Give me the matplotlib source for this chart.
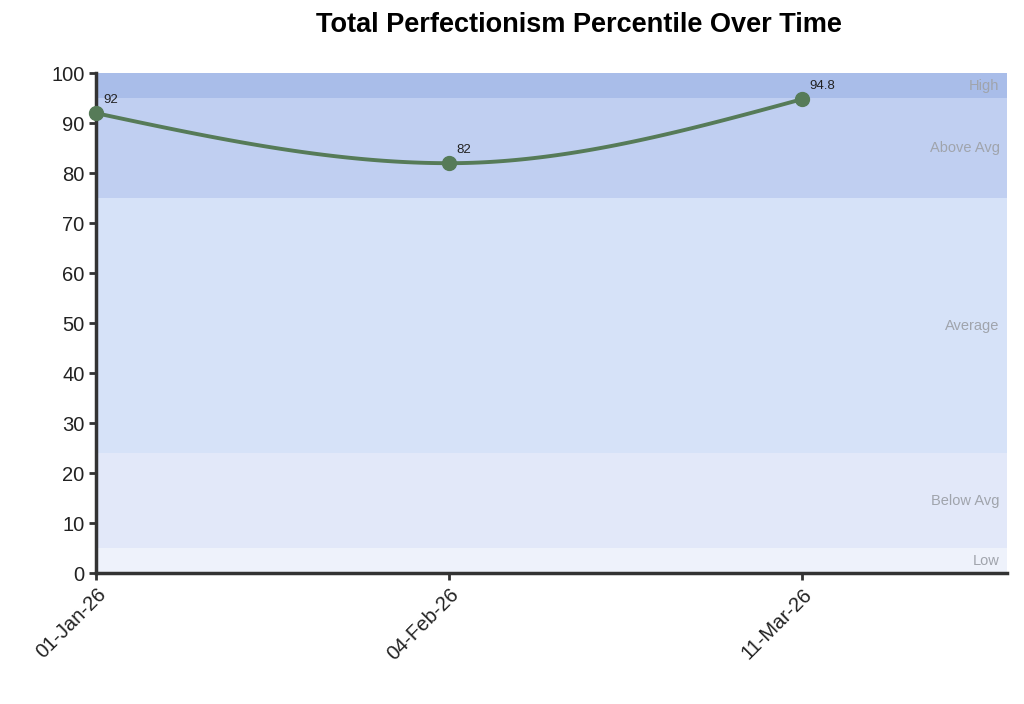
import numpy as np
import matplotlib
matplotlib.use("Agg")
import matplotlib.pyplot as plt

plt.rcParams['font.family'] = ['Liberation Sans', 'DejaVu Sans']

dates = ["01-Jan-26", "04-Feb-26", "11-Mar-26"]
scores = [92, 82, 94.8]
score_labels = ["92", "82", "94.8"]

band_names = ["Low", "Below Avg", "Average", "Above Avg", "High"]
band_lo = [0, 5, 24, 75, 95]
band_hi = [5, 24, 75, 95, 100]
band_colors = ["#eef2fb", "#e2e8f9", "#d6e2f8", "#c0cff1", "#a9bde9"]


def monotone_curve(x, y, n=60):
    # d3-style monotone cubic interpolation
    x = np.asarray(x, float)
    y = np.asarray(y, float)
    h = np.diff(x)
    s = np.diff(y) / h
    m = np.zeros(len(x))
    for i in range(1, len(x) - 1):
        p = (s[i - 1] * h[i] + s[i] * h[i - 1]) / (h[i - 1] + h[i])
        m[i] = (np.sign(s[i - 1]) + np.sign(s[i])) * min(abs(s[i - 1]), abs(s[i]), 0.5 * abs(p))
    m[0] = (3 * s[0] - m[1]) / 2
    m[-1] = (3 * s[-1] - m[-2]) / 2
    xs, ys = [], []
    for i in range(len(x) - 1):
        t = np.linspace(0, 1, n)
        h00 = 2 * t**3 - 3 * t**2 + 1
        h10 = t**3 - 2 * t**2 + t
        h01 = -2 * t**3 + 3 * t**2
        h11 = t**3 - t**2
        xs.append(x[i] + t * h[i])
        ys.append(h00 * y[i] + h10 * h[i] * m[i] + h01 * y[i + 1] + h11 * h[i] * m[i + 1])
    return np.concatenate(xs), np.concatenate(ys)


fig = plt.figure(figsize=(10.24, 7.04), dpi=100)
ax = fig.add_axes([0.094, 0.186, 0.889, 0.710])

xpos = np.arange(len(dates))
xmax = 2.58

for name, lo, hi, c in zip(band_names, band_lo, band_hi, band_colors):
    ax.axhspan(lo, hi, color=c, lw=0, zorder=0)
    ax.text(xmax - 0.02, (lo + hi) / 2, name, ha="right", va="center",
            fontsize=10.5, color="#a0a4ac", zorder=1)

cx, cy = monotone_curve(xpos, scores)
ax.plot(cx, cy, color="#567b58", lw=2.8, zorder=3, solid_capstyle="round")
ax.plot(xpos, scores, "o", color="#567b58", ms=10, zorder=4, clip_on=False)
for xi, yi, lab in zip(xpos, scores, score_labels):
    ax.annotate(lab, (xi, yi), xytext=(5, 7), textcoords="offset points",
                fontsize=9.5, color="#222222", zorder=5)

ax.set_xlim(0, xmax)
ax.set_ylim(0, 100)
ax.set_yticks(range(0, 101, 10))
ax.set_xticks(xpos)
ax.set_xticklabels(dates, rotation=45, ha="right", rotation_mode="anchor")
ax.tick_params(axis="both", labelsize=14.5, colors="#333333", width=2, length=5)
ax.tick_params(axis="both", labelcolor="#222222")
for side in ["top", "right"]:
    ax.spines[side].set_visible(False)
for side in ["left", "bottom"]:
    ax.spines[side].set_linewidth(2.5)
    ax.spines[side].set_color("#333333")

fig.suptitle("Total Perfectionism Percentile Over Time", x=0.565, y=0.983,
             fontsize=19.5, fontweight="bold")

fig.savefig("out.png", dpi=100)
